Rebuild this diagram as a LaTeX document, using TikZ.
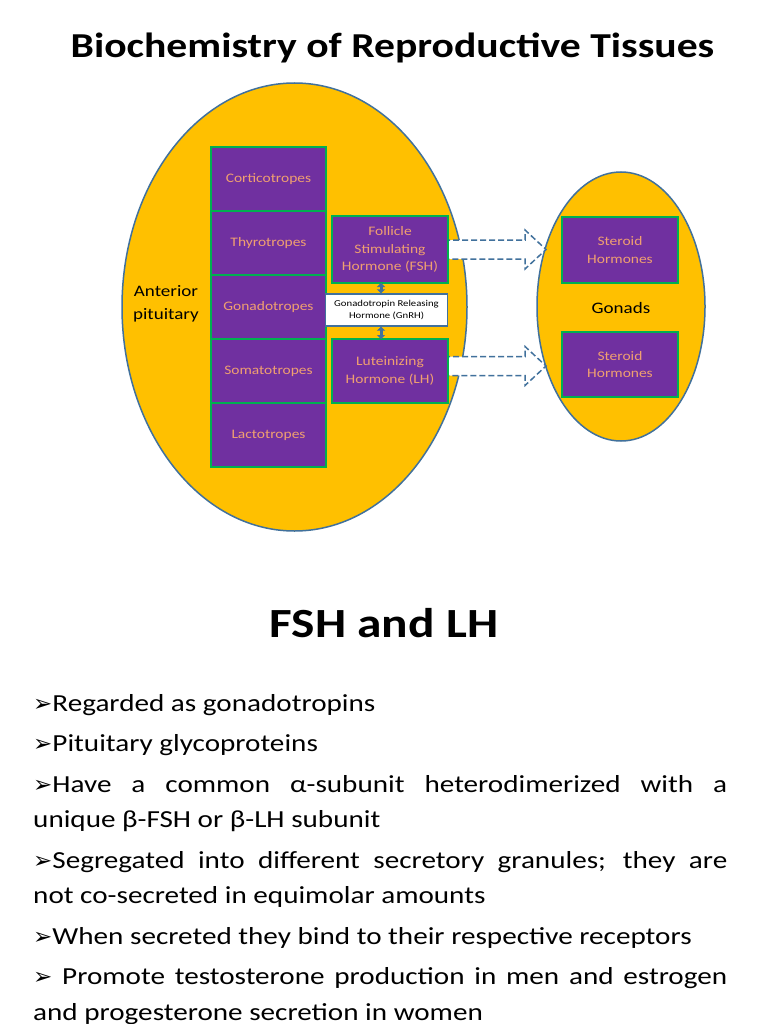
\documentclass[tikz,border=0pt]{standalone}
\usepackage{fontspec}
\setmainfont{Carlito}[FakeStretch=1.19]
\newfontfamily\symfont{DejaVu Sans}
\usetikzlibrary{arrows.meta,shapes.geometric,positioning,calc}
\definecolor{ellfill}{HTML}{FFC000}
\definecolor{edgeblue}{HTML}{41719C}
\definecolor{cellfill}{HTML}{7030A0}
\definecolor{cellline}{HTML}{00B050}
\definecolor{celltext}{HTML}{F0A070}
\newcommand{\bul}{{\symfont\fontsize{23}{23}\selectfont ➢}}

\begin{document}
\begin{tikzpicture}[x=1pt,y=-1pt,>=Stealth,
  oval/.style={ellipse,draw=edgeblue,line width=1.5pt,fill=ellfill,inner sep=0},
  cell/.style={draw=cellline,line width=1.5pt,fill=cellfill,text=celltext,minimum width=115pt,minimum height=64pt,align=center,inner sep=0,outer sep=0,font=\fontsize{13}{17.5}\selectfont},
  blockarrow/.style={draw=edgeblue,fill=white,line width=1.5pt,dash pattern=on 6pt off 3pt},
  link/.style={{Triangle[width=8pt,length=4pt]}-{Triangle[width=8pt,length=4pt]},draw=edgeblue,line width=3pt}]
\fill[white] (0,0) rectangle (768,1024);
\useasboundingbox (0,0) rectangle (768,1024);
\node[anchor=base,font=\fontsize{35}{40}\selectfont\bfseries] (title) at (392.5,58) {Biochemistry of Reproductive Tissues};
% the two glands
\node[oval,minimum width=345pt,minimum height=448pt] (pit) at (294.5,307) {};
\node[oval,minimum width=168pt,minimum height=269pt] (gon) at (621,306.5) {};
\node[align=center,font=\fontsize{16}{23}\selectfont] (ant) at (166,304) {Anterior\\pituitary};
\node[font=\fontsize{16}{20}\selectfont] (gonlbl) at (621,308) {Gonads};
% block arrows to the gonads
\node[cell,minimum width=116pt,minimum height=67pt] (fsh) at (390,249.5) {};
\node[cell,minimum width=116pt] (lh) at (390,371) {};
\coordinate (fa) at (fsh.east);
\coordinate (la) at ($(lh.east)+(0,-5)$);
\draw[blockarrow] ($(fa)+(-4,-9.5)$) -- ($(fa)+(77,-9.5)$) -- ($(fa)+(77,-19.5)$) -- ($(fa)+(98,0)$) -- ($(fa)+(77,19.5)$) -- ($(fa)+(77,9.5)$) -- ($(fa)+(-4,9.5)$);
\draw[blockarrow] ($(la)+(-4,-9.5)$) -- ($(la)+(77,-9.5)$) -- ($(la)+(77,-19.5)$) -- ($(la)+(98,0)$) -- ($(la)+(77,19.5)$) -- ($(la)+(77,9.5)$) -- ($(la)+(-4,9.5)$);
% cell column
\node[cell] (cort) at (268.5,179) {Corticotropes};
\node[cell,below=0pt of cort] (thyro) {Thyrotropes};
\node[cell,below=0pt of thyro] (gonado) {Gonadotropes};
\node[cell,below=0pt of gonado] (somato) {Somatotropes};
\node[cell,below=0pt of somato] (lacto) {Lactotropes};
\node[cell,minimum width=116pt,minimum height=67pt] at (fsh) {Follicle\\Stimulating\\Hormone (FSH)};
\node[cell,minimum width=116pt] at (lh) {Luteinizing\\Hormone (LH)};
\node[draw=edgeblue,line width=1.2pt,fill=white,minimum width=122pt,minimum height=32pt,inner sep=0,align=center,font=\fontsize{9}{12.5}\selectfont] (gnrh) at (386.5,310) {Gonadotropin Releasing\\Hormone (GnRH)};
\coordinate (ax) at (381,310);
\draw[link] (gnrh.north -| ax) -- (fsh.south -| ax);
\draw[link] (gnrh.south -| ax) -- (lh.north -| ax);
\node[cell,minimum width=116pt,minimum height=66pt] (st1) at (620,250) {Steroid\\Hormones};
\node[cell,minimum width=116pt,minimum height=65pt] (st2) at (620,364.5) {Steroid\\Hormones};
% second part
\node[anchor=base,font=\fontsize{41.5}{46}\selectfont\bfseries] (sub) at (384,637) {FSH and LH};
\node[anchor=base west,text width=694pt,align=justify,inner sep=0,font=\fontsize{24.5}{35.5}\selectfont] (points) at (33,711) {\parskip=5pt\hyphenpenalty=10000\exhyphenpenalty=10000
\bul Regarded as gonadotropins\par
\bul Pituitary glycoproteins\par
\bul Have a common α-subunit heterodimerized with a\linebreak unique β-FSH or β-LH subunit\par
\bul Segregated into different secretory granules; they are\linebreak not co-secreted in equimolar amounts\par
\bul When secreted they bind to their respective receptors\par
\bul{} Promote testosterone production in men and estrogen\linebreak and progesterone secretion in women};
\end{tikzpicture}
\end{document}
